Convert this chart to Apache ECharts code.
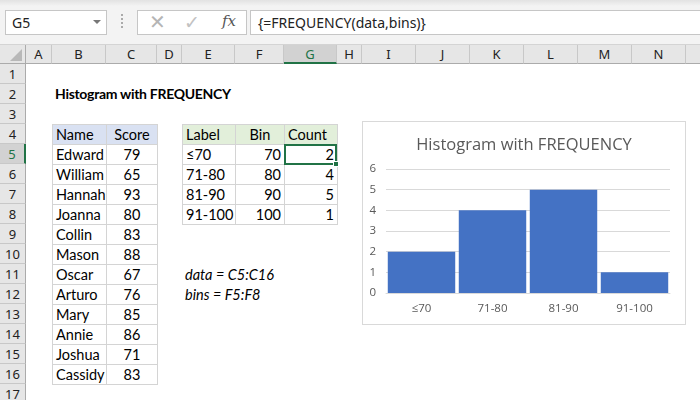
<!DOCTYPE html>
<html><head><meta charset="utf-8">
<script src="https://cdn.jsdelivr.net/npm/echarts@6/dist/echarts.min.js"></script>
<style>
html,body{margin:0;padding:0;width:700px;height:400px;overflow:hidden;background:#fff;font-family:Lato,"Noto Sans",sans-serif;}
.a{position:absolute;box-sizing:border-box;}
.box{background:#fff;border:1px solid #c6c6c6;}
.colh{top:45px;height:19px;background:#e6e6e6;border-right:1px solid #c8c8c8;border-bottom:1px solid #ababab;font-family:"Noto Sans",sans-serif;font-size:13px;color:#222;text-align:center;line-height:18px;}
.rowh{left:0;width:26px;height:20px;background:#e6e6e6;border-right:1px solid #ababab;border-bottom:1px solid #c8c8c8;font-family:"Noto Sans",sans-serif;font-size:13px;color:#222;text-align:center;line-height:20px;}
.cell{height:21px;border:1px solid #d4d4d4;font-size:14.5px;line-height:19px;padding:0 3px;color:#000;white-space:nowrap;}
</style></head><body>
<div id="sheet"></div>
<div id="chart" class="a" style="left:362px;top:121px;width:324px;height:204px;border:1px solid #d9d9d9;background:#fff;"></div>
<script>
const names = ["Edward","William","Hannah","Joanna","Collin","Mason","Oscar","Arturo","Mary","Annie","Joshua","Cassidy"];
const scores = [79,65,93,80,83,88,67,76,85,86,71,83];
const labels = ["≤70","71-80","81-90","91-100"];
const bins = [70,80,90,100];
const counts = [2,4,5,1];
const colLetters = ["A","B","C","D","E","F","G","H","I","J","K","L","M","N"];
const colEdges = [26,52,106,157,182,235,284,337,362,416,470,524,578,632,686];

const S = document.getElementById('sheet');
function el(cls, style, text){const d=document.createElement('div');d.className='a '+cls;d.style.cssText=style;if(text!==undefined)d.textContent=text;S.appendChild(d);return d;}

// toolbar
el('', 'left:0;top:0;width:700px;height:45px;background:#f3f3f3;border-bottom:1px solid #d4d4d4;');
el('', 'left:0;top:0;width:700px;height:6px;background:linear-gradient(#e2e2e2,#f3f3f3);');
el('box', 'left:5px;top:10px;width:102px;height:25px;font-family:"Noto Sans",sans-serif;font-size:14px;line-height:23px;padding-left:6px;color:#222;', 'G5');
el('', 'left:93px;top:20px;width:0;height:0;border-left:4px solid transparent;border-right:4px solid transparent;border-top:4px solid #777;');
el('', 'left:121px;top:14px;width:2px;height:14px;border-left:2px dotted #aaa;');
el('box', 'left:137px;top:10px;width:110px;height:25px;');
el('', 'left:149px;top:10px;font-size:20px;line-height:25px;color:#b5b5b5;font-family:"DejaVu Sans",sans-serif;', '✕');
el('', 'left:184px;top:10px;font-size:19px;line-height:25px;color:#c2c2c2;font-family:"DejaVu Sans",sans-serif;', '✓');
el('', 'left:222px;top:9px;font-size:15px;line-height:25px;color:#555;font-style:italic;font-family:"DejaVu Serif",serif;', 'fx');
el('box', 'left:250px;top:10px;width:460px;height:25px;font-family:"Noto Sans",sans-serif;font-size:14px;line-height:23px;padding-left:7px;color:#222;', '{=FREQUENCY(data,bins)}');

// corner
el('', 'left:0;top:45px;width:26px;height:19px;background:#e6e6e6;border-right:1px solid #ababab;border-bottom:1px solid #ababab;');
el('', 'left:10px;top:49px;width:0;height:0;border-left:12px solid transparent;border-bottom:12px solid #b8b8b8;');
// column headers
for(let i=0;i<colLetters.length;i++){
  const x=colEdges[i], w=colEdges[i+1]-colEdges[i];
  const sel = colLetters[i]==='G';
  el('colh', `left:${x}px;width:${w}px;${sel?'background:#d2d2d2;border-bottom:2px solid #217346;color:#217346;':''}`, colLetters[i]);
}
el('colh', 'left:686px;width:20px;');
// row headers
for(let r=1;r<=17;r++){
  const y=64+(r-1)*20;
  const sel=r===5;
  el('rowh', `top:${y}px;${sel?'background:#d2d2d2;border-right:2px solid #217346;color:#217346;':''}`, String(r));
}
// title
el('', 'left:55px;top:84px;font-size:14px;letter-spacing:-0.3px;font-weight:bold;line-height:20px;', 'Histogram with FREQUENCY');

// c0: column index in colLetters (A=0)
function cell(c0,r,text,style){
  const x=colEdges[c0], w=colEdges[c0+1]-x+1, y=64+(r-1)*20;
  el('cell', `left:${x}px;top:${y}px;width:${w}px;${style||''}`, text);
}
// Name/Score table (B, C)
cell(1,4,'Name','background:#d9e1f2;');
cell(2,4,'Score','background:#d9e1f2;text-align:center;');
names.forEach((n,i)=>{cell(1,5+i,n);cell(2,5+i,String(scores[i]),'text-align:center;');});
// Label/Bin/Count table (E, F, G)
cell(4,4,'Label','background:#e2efda;');
cell(5,4,'Bin','background:#e2efda;text-align:center;');
cell(6,4,'Count','background:#e2efda;');
labels.forEach((l,i)=>{cell(4,5+i,l);cell(5,5+i,String(bins[i]),'text-align:right;');cell(6,5+i,String(counts[i]),'text-align:right;');});
// selection
el('', 'left:284px;top:144px;width:53px;height:21px;border:2px solid #217346;');
el('', 'left:333px;top:161px;width:6px;height:6px;background:#217346;border:1px solid #fff;');
// notes
el('', 'left:185px;top:265px;font-size:14.5px;font-style:italic;line-height:20px;', 'data = C5:C16');
el('', 'left:185px;top:285px;font-size:14.5px;font-style:italic;line-height:20px;', 'bins = F5:F8');

// chart
const chart = echarts.init(document.getElementById('chart'));
chart.setOption({
  animation:false,
  title:{text:'Histogram with FREQUENCY',left:'center',top:10,textStyle:{fontFamily:'"Open Sans",sans-serif',fontWeight:'normal',fontSize:16.5,color:'#595959'}},
  grid:{left:23,right:15,top:47,bottom:31},
  xAxis:{type:'category',data:labels,axisLine:{lineStyle:{color:'#d9d9d9'}},axisTick:{show:false},
    axisLabel:{color:'#595959',fontSize:11.5,fontFamily:'"Open Sans",sans-serif',margin:10}},
  yAxis:{type:'value',min:0,max:6,interval:1,axisLine:{show:false},axisTick:{show:false},
    splitLine:{lineStyle:{color:'#d9d9d9'}},
    axisLabel:{color:'#595959',fontSize:11.5,fontFamily:'"Open Sans",sans-serif',margin:10}},
  series:[{type:'bar',data:counts,barCategoryGap:'5%',itemStyle:{color:'#4472c4'}}]
});
</script>
</body></html>
